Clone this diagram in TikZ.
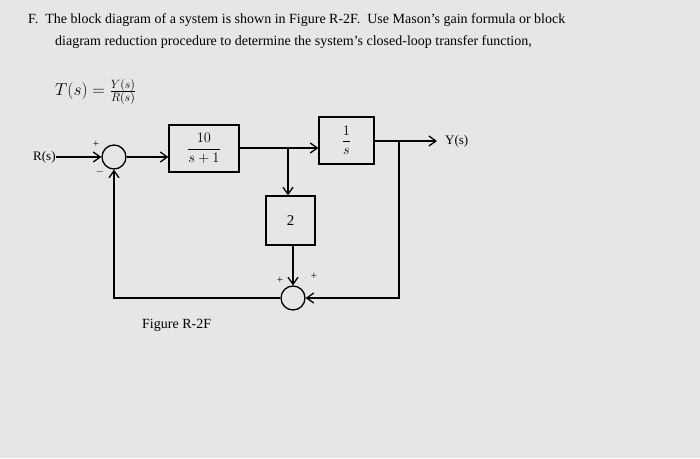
\documentclass[tikz,border=0pt]{standalone}
\usepackage{fontspec}
\setmainfont{Liberation Serif}
\usetikzlibrary{arrows.meta}
\definecolor{paper}{HTML}{E6E5E8}
\begin{document}
\begin{tikzpicture}[x=1pt,y=-1pt,
  blk/.style={draw,line width=1.3pt,fill=paper,inner sep=0pt,font=\fontsize{15}{17}\selectfont},
  sumj/.style={draw,line width=1.3pt,circle,minimum size=24pt,inner sep=0pt},
  sig/.style={line width=1.3pt,-{Straight Barb[length=7pt,width=10pt,line width=1.3pt]}},
  wire/.style={line width=1.3pt},
  txt/.style={font=\fontsize{14}{16}\selectfont,anchor=west,inner sep=0pt},
  sgn/.style={font=\fontsize{11}{12}\selectfont}]
\fill[paper] (0,0) rectangle (700,458);
\useasboundingbox (0,0) rectangle (700,458);
\node[txt] (l1) at (28,20) {F.\ \ The block diagram of a system is shown in Figure R-2F.\ \ Use Mason’s gain formula or block};
\node[txt] (l2) at (55,42) {diagram reduction procedure to determine the system’s closed-loop transfer function,};
\node[txt,font=\fontsize{17}{20}\selectfont] (l3) at (55,92) {$T(s)=\frac{Y(s)}{R(s)}$};
\node[sumj] (s1) at (114,157) {};
\node[blk,minimum width=70pt,minimum height=47pt] (b1) at (204,148.5) {$\displaystyle\frac{10}{s+1}$};
\node[blk,minimum width=55pt,minimum height=47pt] (b2) at (346.5,140.5) {$\displaystyle\frac{1}{s}$};
\node[blk,minimum width=49pt,minimum height=49pt] (b3) at (290.5,220.5) {2};
\node[sumj] (s2) at (293,298) {};
\node[txt,font=\fontsize{13}{15}\selectfont] (r) at (33,157) {R(s)};
\node[txt,font=\fontsize{13}{15}\selectfont] (y) at (445,141) {Y(s)};
\node[txt,font=\fontsize{14}{16}\selectfont] (fig) at (142,325) {Figure R-2F};
\coordinate (j1) at (288,148);
\coordinate (j2) at (399,141);
\coordinate (yo) at (437,141);
\draw[sig] (r.east) -- (s1.west);
\draw[sig] (s1.east) -- (b1.west |- s1);
\draw[sig] (b1.east |- j1) -- (b2.west |- j1);
\draw[sig] (j1) -- (b3.north -| j1);
\draw[sig] (b3.south -| s2) -- (s2.north);
\draw[sig] (b2.east |- j2) -- (yo);
\draw[sig] (j2) |- (s2.east);
\draw[sig] (s2.west) -| (s1.south);
\node[sgn] (p1) at (96,144) {+};
\node[sgn] (m1) at (100,172) {$-$};
\node[sgn] (p2) at (280,280) {+};
\node[sgn] (p3) at (314,276) {+};
\end{tikzpicture}
\end{document}
